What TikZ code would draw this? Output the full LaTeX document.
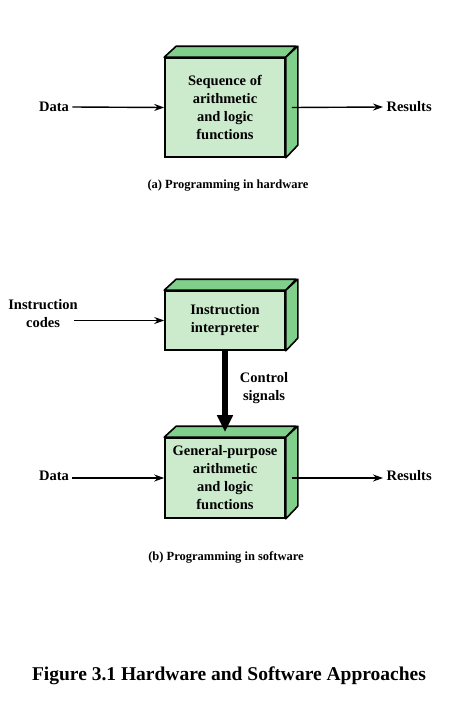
\documentclass[tikz,border=0pt]{standalone}
\usepackage{fontspec}
\setmainfont{Liberation Serif}
\usetikzlibrary{positioning}
\usetikzlibrary{arrows.meta}
\definecolor{frontgreen}{RGB}{204,235,204}
\definecolor{sidegreen}{RGB}{128,208,140}

\begin{document}
\begin{tikzpicture}[%
  x=1pt, y=-1pt,
  block/.style={draw, line width=1.6pt, fill=frontgreen, minimum width=120pt,
    inner sep=0pt, align=center, font=\bfseries\fontsize{14.5}{18}\selectfont},
  face/.style={draw, line width=1.6pt, fill=sidegreen, line join=round},
  txt/.style={align=center, font=\bfseries\fontsize{14.5}{18}\selectfont},
  subcap/.style={font=\bfseries\fontsize{12.5}{15}\selectfont},
  flow/.style={-{Stealth[length=10pt,width=7pt]}, line width=1.4pt},
  ctrl/.style={-{Triangle[length=17pt,width=15pt]}, line width=6.5pt},
]
  \useasboundingbox (0,0) rectangle (459,720);

  % (a) hardware
  \node[block, minimum height=99pt] (seq) at (225,107.5)
    {Sequence of\\arithmetic\\and logic\\functions};
  \filldraw[face] (seq.north west) -- ++(12,-11) -- ++(120,0) -- (seq.north east) -- cycle;
  \filldraw[face] (seq.north east) -- ++(12,-11) -- ++(0,99) -- (seq.south east) -- cycle;

  \node[txt] (dataa) at (54,107) {Data};
  \node[txt, anchor=west] (resa) at (383,107) {Results};
  \coordinate (seqout) at ([xshift=6pt]seq.east);
  \draw[flow] (dataa.east) -- (seq.west);
  \draw[flow] (seqout) -- (resa.west);

  \node[subcap] (capa) at (228,186) {(a) Programming in hardware};

  % (b) software
  \node[block, minimum height=59pt] (interp) at (225,320.5)
    {Instruction\\interpreter};
  \filldraw[face] (interp.north west) -- ++(12,-11) -- ++(120,0) -- (interp.north east) -- cycle;
  \filldraw[face] (interp.north east) -- ++(12,-11) -- ++(0,59) -- (interp.south east) -- cycle;

  \node[block, minimum height=80pt] (gen) at (225,478)
    {General-purpose\\arithmetic\\and logic\\functions};
  \filldraw[face] (gen.north west) -- ++(12,-11) -- ++(120,0) -- (gen.north east) -- cycle;
  \filldraw[face] (gen.north east) -- ++(12,-11) -- ++(0,80) -- (gen.south east) -- cycle;

  \node[txt] (instr) at (43,314) {Instruction\\codes};
  \coordinate (instrout) at (74,320.5);
  \draw[flow] (instrout) -- (interp.west);

  \draw[ctrl] (interp.south) -- ([yshift=5pt]gen.north);
  \node[txt] (ctrllbl) at (264,388) {Control\\signals};

  \node[txt] (datab) at (54,476) {Data};
  \node[txt, anchor=west] (resb) at (383,476) {Results};
  \coordinate (genout) at ([xshift=6pt]gen.east);
  \draw[flow] (datab.east |- gen.west) -- (gen.west);
  \draw[flow] (genout) -- (resb.west |- gen.east);

  \node[subcap] (capb) at (226,557) {(b) Programming in software};

  \node[font=\bfseries\fontsize{19.5}{23}\selectfont] (fig) at (229,676)
    {Figure 3.1 Hardware and Software Approaches};

\end{tikzpicture}
\end{document}
